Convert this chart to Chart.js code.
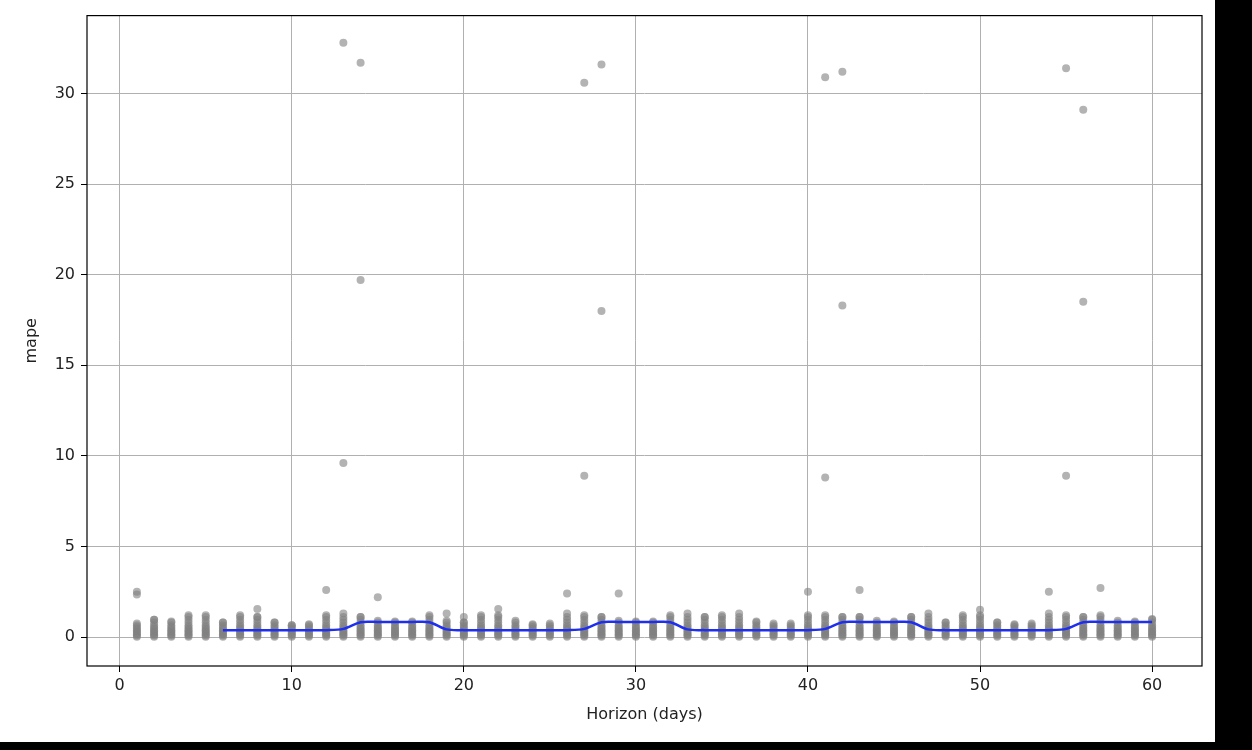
<!DOCTYPE html>
<html>
<head>
<meta charset="utf-8">
<script src="https://cdn.jsdelivr.net/npm/chart.js@4"></script>
<style>
  body { margin: 0; background: #000; }
  #wrap { width: 1215px; height: 742px; background: #fff; }
</style>
</head>
<body>
<div id="wrap"><canvas id="cv"></canvas></div>
<script>
// top of the dense cluster per horizon day (1..60)
const dayTops = [0.75, 0.95, 0.85, 1.2, 1.2, 0.8, 1.2, 1.1, 0.8, 0.65,
                 0.7, 1.2, 1.3, 1.1, 0.9, 0.85, 0.85, 1.2, 0.9, 0.8,
                 1.2, 1.2, 0.9, 0.7, 0.75, 1.3, 1.2, 1.1, 0.9, 0.85,
                 0.85, 1.2, 1.3, 1.1, 1.2, 1.3, 0.85, 0.75, 0.75, 1.2,
                 1.2, 1.1, 1.1, 0.9, 0.85, 1.1, 1.3, 0.8, 1.2, 1.2,
                 0.8, 0.7, 0.75, 1.3, 1.2, 1.1, 1.2, 0.9, 0.85, 1.0];
const clusterLevels = [0.02, 0.08, 0.15, 0.22, 0.3, 0.38, 0.46, 0.55, 0.65, 0.8, 0.95, 1.1];
const outliers = [[1,2.5],[1,2.35],[8,1.55],[12,2.6],[13,32.8],[13,9.6],[14,31.7],[14,19.7],
                  [15,2.2],[19,1.3],[20,1.1],[22,1.55],[26,2.4],[27,30.6],[27,8.9],[28,31.6],
                  [28,18.0],[29,2.4],[40,2.5],[41,30.9],[41,8.8],[42,31.2],[42,18.3],[43,2.6],
                  [50,1.5],[54,2.5],[55,31.4],[55,8.9],[56,29.1],[56,18.5],[57,2.7]];
// rolling mape line, days 6..60
const lineDays = [6,7,8,9,10,11,12,13,14,15,16,17,18,19,20,21,22,23,24,25,26,27,28,29,30,31,32,33,
                  34,35,36,37,38,39,40,41,42,43,44,45,46,47,48,49,50,51,52,53,54,55,56,57,58,59,60];
const lineVals = [0.38,0.38,0.38,0.38,0.38,0.38,0.38,0.45,0.82,0.83,0.83,0.83,0.82,0.42,0.38,0.38,0.38,0.38,0.38,0.38,0.38,0.45,0.82,0.83,0.83,0.83,0.82,0.42,
                  0.38,0.38,0.38,0.38,0.38,0.38,0.38,0.45,0.82,0.83,0.83,0.83,0.82,0.42,0.38,0.38,0.38,0.38,0.38,0.38,0.38,0.45,0.82,0.83,0.83,0.83,0.83];

const pts = [];
dayTops.forEach((top, i) => {
  clusterLevels.forEach(v => { if (v <= top) pts.push({x: i + 1, y: v}); });
  pts.push({x: i + 1, y: top});
});
outliers.forEach(o => pts.push({x: o[0], y: o[1]}));

const frame = {
  id: 'frame',
  afterDraw(c) {
    const a = c.chartArea, g = c.ctx;
    g.save(); g.strokeStyle = '#000'; g.lineWidth = 1.2;
    g.strokeRect(a.left, a.top, a.right - a.left, a.bottom - a.top);
    g.restore();
  }
};

Chart.defaults.font.family = 'DejaVu Sans';
Chart.defaults.font.size = 16;
Chart.defaults.color = '#222';

new Chart(document.getElementById('cv'), {
  type: 'scatter',
  data: {
    datasets: [
      { type: 'line', data: lineDays.map((d, i) => ({x: d, y: lineVals[i]})), borderColor: '#1f2ff0',
        borderWidth: 2.5, pointRadius: 0, tension: 0.3, order: 0 },
      { data: pts, backgroundColor: 'rgba(128,128,128,0.6)', borderWidth: 0, pointRadius: 4, order: 1 }
    ]
  },
  options: {
    responsive: true, maintainAspectRatio: false, animation: false,
    layout: { padding: { top: 15, right: 13, left: 18, bottom: 14 } },
    plugins: { legend: { display: false }, tooltip: { enabled: false } },
    scales: {
      x: { type: 'linear', min: -1.9, max: 62.9,
        afterBuildTicks: s => { s.ticks = [0,10,20,30,40,50,60].map(v => ({value: v})); },
        afterFit: s => { s.height = 62; },
        grid: { color: '#b0b0b0', tickColor: '#000', tickLength: 6 },
        border: { display: false },
        ticks: { padding: 4 },
        title: { display: true, text: 'Horizon (days)', padding: { top: 2 } } },
      y: { min: -1.6, max: 34.3,
        afterBuildTicks: s => { s.ticks = [0,5,10,15,20,25,30].map(v => ({value: v})); },
        afterFit: s => { s.width = 69; },
        grid: { color: '#b0b0b0', tickColor: '#000', tickLength: 6 },
        border: { display: false },
        ticks: { padding: 6 },
        title: { display: true, text: 'mape', padding: { bottom: 6 } } }
    }
  },
  plugins: [frame]
});
</script>
</body>
</html>
